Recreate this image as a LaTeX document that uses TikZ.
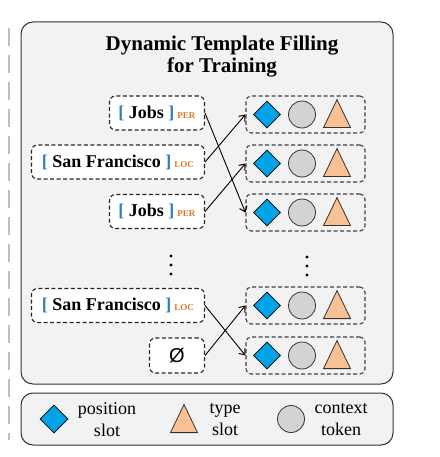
\documentclass[tikz,border=0pt]{standalone}
\usepackage{fontspec}
\setmainfont{Liberation Serif}
\newfontfamily\symfont{Liberation Sans}
\usetikzlibrary{shapes.geometric,arrows.meta}
\definecolor{panelgray}{HTML}{F2F2F2}
\definecolor{slotblue}{HTML}{00A2E8}
\definecolor{slotorange}{HTML}{F8C193}
\definecolor{tokengray}{HTML}{D3D3D3}
\definecolor{brkblue}{HTML}{2E7DC0}
\definecolor{tagorange}{HTML}{E0772A}
\newcommand{\ent}[2]{{\color{brkblue}[}~#1~{\color{brkblue}]}\,{\color{tagorange}\fontsize{9}{9}\selectfont #2}}

\begin{document}
\begin{tikzpicture}
[every node/.style={inner sep=0pt}, x=1pt, y=1pt,
 panel/.style={rounded corners=12pt, fill=panelgray, draw=black!80, line width=1pt},
 wordbox/.style={rectangle, rounded corners=6pt, fill=white, draw=black!85, dash pattern=on 4pt off 2.5pt, line width=1.1pt, minimum height=34pt, anchor=east, font=\fontsize{18}{20}\selectfont\bfseries},
 slotbox/.style={rectangle, rounded corners=5pt, fill=panelgray, draw=black!75, dash pattern=on 4pt off 2.5pt, line width=1.1pt, minimum width=119pt, minimum height=37pt},
 posslot/.style={diamond, fill=slotblue, draw=black, line width=0.8pt, minimum width=27pt, minimum height=27pt},
 ctxslot/.style={circle, fill=tokengray, draw=black!80, line width=0.8pt, minimum size=27pt},
 typslot/.style={isosceles triangle, shape border rotate=90, isosceles triangle stretches, minimum width=27pt, minimum height=28pt, fill=slotorange, draw=black!80, line width=0.8pt, anchor=south},
 link/.style={-{Straight Barb[length=5pt, width=8pt, line width=1pt]}, line width=0.9pt, black},
 dot/.style={circle, fill=black, minimum size=3.4pt}]
\useasboundingbox (0,0) rectangle (439,-457);
% cut edge of the neighbouring figure
\draw [black!25, line width=2pt, dash pattern=on 18pt off 9pt] (9,-28) -- (9,-440);
% panels
\draw [panel] (21,-22) rectangle (393,-384);
\draw [panel] (21,-393) rectangle (393,-445);
\node [anchor=base, font=\fontsize{21}{24}\selectfont\bfseries] (t1) at (222,-51) {Dynamic Template Filling};
\node [anchor=base, font=\fontsize{21}{24}\selectfont\bfseries] (t2) at (222,-73) {for Training};
% entities
\node (1) [wordbox, minimum width=95pt] at (205,-113) {\ent{Jobs}{PER}};
\node (2) [wordbox, minimum width=173pt] at (205,-162) {\ent{San Francisco}{LOC}};
\node (3) [wordbox, minimum width=95pt] at (205,-211.5) {\ent{Jobs}{PER}};
\node (4) [wordbox, minimum width=173pt] at (205,-305.5) {\ent{San Francisco}{LOC}};
\node (5) [wordbox, minimum width=55pt, minimum height=35pt, font=\symfont\fontsize{20}{20}\selectfont] at (205,-355.5) {Ø};
% template slots
\foreach \y/\n in {114.5/6, 163.5/7, 212.5/8, 305.5/9, 355.5/10} {
  \node (\n) [slotbox] at (305.5,-\y) {};
  \node (p\n) [posslot] at (267,-\y) {};
  \node (c\n) [ctxslot] at (302,-\y) {};
  \node (y\n) [typslot] at (337,-\y-13.5) {};
}
% vertical dots
\foreach \y [count=\i] in {256, 265, 274} {
  \node (ld\i) [dot] at (171,-\y) {};
  \node (rd\i) [dot] at (307,-\y-1) {};
}
% filling
\draw [link] (1.east) -- (8.west);
\draw [link] (2.east) -- (6.west);
\draw [link] (3.east) -- (7.west);
\draw [link] (4.east) -- (10.west);
\draw [link] (5.east) -- (9.west);
% legend
\node (lp) [posslot, minimum width=28pt, minimum height=28pt] at (54,-419) {};
\node (lpt) [align=center, font=\fontsize{18}{22}\selectfont] at (107,-420) {position\\slot};
\node (ly) [typslot] at (184,-433) {};
\node (lyt) [align=center, font=\fontsize{18}{22}\selectfont] at (225,-420) {type\\slot};
\node (lc) [ctxslot] at (291,-419) {};
\node (lct) [align=center, font=\fontsize{18}{22}\selectfont] at (341,-420) {context\\token};
\end{tikzpicture}
\end{document}
